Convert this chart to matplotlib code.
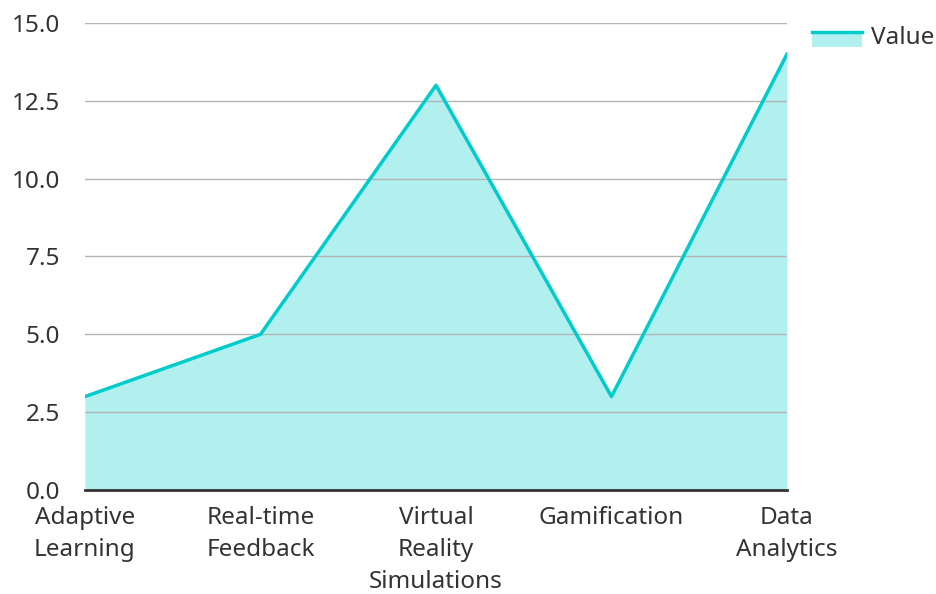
import matplotlib
matplotlib.use("Agg")
import matplotlib.pyplot as plt
from matplotlib.patches import Rectangle
from matplotlib.lines import Line2D
from matplotlib.legend_handler import HandlerBase

categories = ["Adaptive\nLearning", "Real-time\nFeedback", "Virtual\nReality\nSimulations", "Gamification", "Data\nAnalytics"]
values = [3, 5, 13, 3, 14]
yticks = [0.0, 2.5, 5.0, 7.5, 10.0, 12.5, 15.0]
series_name = "Value"

plt.rcParams['font.family'] = ['Noto Sans', 'DejaVu Sans']

fig = plt.figure(figsize=(9.36, 5.94), dpi=100)
ax = fig.add_axes([0.0908, 0.1751, 0.75, 0.7862])

line_color = "#00cccc"
fill_color = "#b2efef"
x = list(range(len(values)))
ax.fill_between(x, values, 0, color=fill_color, linewidth=0, zorder=1)
ax.plot(x, values, color=line_color, linewidth=2.5, zorder=3)

ax.set_xlim(0, len(values) - 1)
ax.set_ylim(0, 15)
ax.set_yticks(yticks)
ax.set_yticklabels([f"{v:.1f}" for v in yticks])
ax.set_xticks(x)
ax.set_xticklabels(categories, linespacing=1.45)
ax.grid(axis='y', color="#b5b5b5", linewidth=1, zorder=2)
for s in ["left", "right", "top"]:
    ax.spines[s].set_visible(False)
ax.spines["bottom"].set_color("#333333")
ax.spines["bottom"].set_linewidth(2)
ax.spines["bottom"].set_zorder(4)
ax.tick_params(axis='both', length=0, labelsize=17.5, labelcolor="#333333")
ax.tick_params(axis='y', pad=18)
ax.tick_params(axis='x', pad=11.5)


class AreaHandler(HandlerBase):
    def create_artists(self, legend, orig_handle, xdescent, ydescent, width, height, fontsize, trans):
        rect = Rectangle((-xdescent, -ydescent - height * 0.3), width, height,
                         facecolor=fill_color, edgecolor='none', transform=trans)
        ln = Line2D([-xdescent, -xdescent + width], [-ydescent + height * 0.7] * 2,
                    color=line_color, linewidth=2.5, transform=trans)
        return [rect, ln]


proxy = Rectangle((0, 0), 1, 1)
leg = fig.legend([proxy], [series_name], loc="upper left", bbox_to_anchor=(812 / 936, 1 - 26 / 594),
                 frameon=False, fontsize=17.5, handlelength=2.05, handleheight=0.55, handletextpad=0.37,
                 borderpad=0, borderaxespad=0,
                 handler_map={Rectangle: AreaHandler()})
for t in leg.get_texts():
    t.set_color("#333333")

fig.savefig("out.png", dpi=100)
